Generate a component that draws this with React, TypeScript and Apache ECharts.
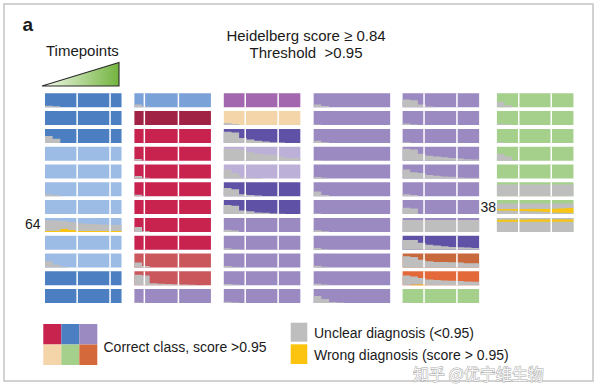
import React, { useEffect, useRef } from 'react';
import * as echarts from 'echarts';

// ---------- data ----------
const N_STEPS = 10; // timepoint samples across each tile

const col1Classes = ['blueDark', 'blueDark', 'blueDark', 'blueLight', 'blueLight', 'blueLight', 'blueLight', 'blueLight', 'blueLight', 'blueLight', 'blueDark', 'blueDark'];
const col2Classes = ['blueMid', 'redDark', 'crimson', 'crimson', 'crimson', 'crimson', 'crimson', 'crimson', 'crimson', 'coral', 'coral', 'purple'];
const col3Classes = ['magenta', 'beige', 'indigo', 'lilac', 'lilac', 'indigo', 'indigo', 'purple', 'purple', 'purple', 'purple', 'purple'];
const col4Classes = ['purple', 'purple', 'purple', 'purple', 'purple', 'purple', 'purple', 'purple', 'purple', 'purple', 'purple', 'purple'];
const col5Classes = ['purple', 'purple', 'purple', 'purple', 'purple', 'purple', 'purple', 'purple', 'indigo', 'brown', 'orange', 'green'];
const col6Classes = ['green', 'green', 'green', 'green', 'green', 'green', 'green', 'green'];

// fraction of samples with unclear diagnosis (grey, from bottom) per timepoint
const col1Unclear = [
  [0.12, 0.08], [], [0.5, 0.3], [], [], [0.15, 0.1], [], [], [], [0.45, 0.2, 0.05], [], [],
];
const col2Unclear = [
  [0.2, 0.05], [], [], [0.12], [0.18, 0.05], [0.12], [], [0.35, 0.05], [], [0.35, 0.1],
  [0.75, 0.7, 0.15, 0.12, 0.1, 0.08, 0.06, 0.04, 0.02], [0.05],
];
const col3Unclear = [
  [], [0.15, 0.08], [0.8, 0.75, 0.35, 0.25, 0.15, 0.1, 0.05, 0.03],
  [0.85, 0.85, 0.8, 0.6, 0.5, 0.45, 0.4, 0.3, 0.22, 0.2], [0.65, 0.4, 0.1, 0.05, 0.03],
  [0.6, 0.5, 0.15, 0.1, 0.05], [0.65, 0.6, 0.25, 0.2, 0.12, 0.1, 0.05, 0.03],
  [0.15, 0.1], [0.1, 0.05], [0.1, 0.05], [0.1, 0.05], [0.1, 0.05],
];
const col4Unclear = [
  [0.2, 0.1], [0.05], [0.15, 0.05], [0.05], [0.1, 0.05], [0.35, 0.1], [0.05],
  [0.12, 0.05], [0.12, 0.05], [0.12, 0.05], [0.12, 0.05], [0.5, 0.3, 0.08, 0.05],
];
const col5Unclear = [
  [0.55, 0.5, 0.2, 0.05], [0.12, 0.05], [0.05],
  [0.85, 0.8, 0.5, 0.35, 0.3, 0.25, 0.2, 0.15, 0.1, 0.08],
  [0.65, 0.45, 0.4, 0.25, 0.2, 0.15, 0.12, 0.08, 0.05, 0.05],
  [0.15, 0.1], [0.45, 0.4],
  [0.85, 0.85, 0.85, 0.85, 0.85, 0.85, 0.85, 0.85, 0.85, 0.85],
  [0.7, 0.7, 0.5, 0.35, 0.3, 0.25, 0.2, 0.18, 0.15, 0.12],
  [0.8, 0.75, 0.55, 0.45, 0.4, 0.4, 0.38, 0.35, 0.3, 0.3],
  [], [0.05],
];
const col6Unclear = [
  [0.4, 0.15], [0.1, 0.05], [0.05], [0.5, 0.3, 0.05], [],
  [0.85, 0.85, 0.85, 0.85, 0.85, 0.85, 0.85, 0.85, 0.85, 0.85], [], [],
];

// tiles containing wrong diagnoses: grey below, yellow, grey above
const wrongTile64 = { col: 0, row: 7,
  below: [],
  wrong: [0.06, 0.1, 0.25, 0.15, 0.06, 0.06, 0.06, 0.06, 0.06, 0.06],
  above: [0.78, 0.72, 0.52, 0.56, 0.56, 0.52, 0.5, 0.47, 0.45, 0.44] };
const wrongTileOrange = { col: 4, row: 10,
  below: [],
  wrong: [0, 0.06, 0.08],
  above: [0.7, 0.56, 0.44, 0.42, 0.38, 0.35, 0.33, 0.3, 0.28, 0.25] };
const wrongTile38 = { col: 5, row: 6,
  below: [0.25, 0.25, 0.24, 0.22, 0.2, 0.18, 0.15, 0.12, 0.1, 0.08],
  wrong: [0.12, 0.12, 0.13, 0.15, 0.18, 0.2, 0.24, 0.28, 0.32, 0.35],
  above: [0.39, 0.39, 0.39, 0.39, 0.38, 0.38, 0.37, 0.36, 0.34, 0.33] };
const wrongTileLast = { col: 5, row: 7,
  below: [0.72, 0.72, 0.72, 0.72, 0.72, 0.72, 0.72, 0.72, 0.72, 0.72],
  wrong: [0.16, 0.16, 0.17, 0.17, 0.18, 0.18, 0.18, 0.18, 0.18, 0.18],
  above: [0.12, 0.12, 0.11, 0.11, 0.1, 0.1, 0.1, 0.1, 0.1, 0.1] };
const wrongTiles = [wrongTile64, wrongTileOrange, wrongTile38, wrongTileLast];

const rowLabels = [
  { col: 0, row: 7, text: '64' },
  { col: 5, row: 6, text: '38' },
];

// ---------- styles / layout ----------
const PALETTE: Record<string, string> = {
  blueDark: '#4b7fc1', blueLight: '#9dbce5', blueMid: '#7aa1d8',
  redDark: '#a02244', crimson: '#c8224f', coral: '#c9575b',
  magenta: '#a267af', beige: '#f3d5a9', indigo: '#5f52a6', lilac: '#bdb0d8',
  purple: '#9b89c1', brown: '#c8693d', orange: '#e3693a', green: '#a4d08c',
  grey: '#bebebe', yellow: '#f9c416',
};
const COL_SHIFT = [0, 0, 0, 0.005, 0, 0.055];
const TILE_W = 0.856;
const TILE_H = 0.787;
const DIVIDERS = [[0.42, 0.85], [0.13, 0.575], [0.28, 0.71], [], [0.28, 0.71], [0.285, 0.71]];
const FONT = '"Liberation Sans", Arial, sans-serif';

const columnClasses = [col1Classes, col2Classes, col3Classes, col4Classes, col5Classes, col6Classes];
const columnUnclear = [col1Unclear, col2Unclear, col3Unclear, col4Unclear, col5Unclear, col6Unclear];

const pad = (a: number[]) => {
  const out = new Array(N_STEPS).fill(0);
  (a || []).forEach((v, i) => { if (i < N_STEPS) out[i] = v; });
  return out;
};

const tileData: number[][] = [];
columnClasses.forEach((cls, c) => cls.forEach((_, r) => tileData.push([c, r])));

const renderItem = (params: any, api: any) => {
  const c = api.value(0);
  const r = api.value(1);
  const x0 = c + COL_SHIFT[c];
  const tl = api.coord([x0, r]);
  const br = api.coord([x0 + TILE_W, r + TILE_H]);
  const w = br[0] - tl[0];
  const h = br[1] - tl[1];
  const children: any[] = [
    { type: 'rect', shape: { x: tl[0], y: tl[1], width: w, height: h }, style: { fill: PALETTE[columnClasses[c][r]] } },
  ];
  const special = wrongTiles.find((t) => t.col === c && t.row === r);
  const layers: [number[], string][] = special
    ? [[pad(special.below), 'grey'], [pad(special.wrong), 'yellow'], [pad(special.above), 'grey']]
    : [[pad(columnUnclear[c][r]), 'grey']];
  const base = new Array(N_STEPS).fill(0);
  const sx = w / N_STEPS;
  layers.forEach(([arr, key]) => {
    if (arr.some((v) => v > 0)) {
      const pts: number[][] = [];
      for (let k = 0; k < N_STEPS; k++) {
        const top = Math.min(1, base[k] + arr[k]);
        pts.push([tl[0] + k * sx, br[1] - top * h], [tl[0] + (k + 1) * sx, br[1] - top * h]);
      }
      for (let k = N_STEPS - 1; k >= 0; k--) {
        pts.push([tl[0] + (k + 1) * sx, br[1] - base[k] * h], [tl[0] + k * sx, br[1] - base[k] * h]);
      }
      children.push({ type: 'polygon', shape: { points: pts }, style: { fill: PALETTE[key] } });
    }
    for (let k = 0; k < N_STEPS; k++) base[k] += arr[k];
  });
  DIVIDERS[c].forEach((f) => {
    const x = tl[0] + f * w;
    children.push({ type: 'line', shape: { x1: x, y1: tl[1], x2: x, y2: br[1] }, style: { stroke: '#ffffff', lineWidth: 1.5 } });
  });
  return { type: 'group', children };
};

const labelSeries = {
  type: 'custom',
  coordinateSystem: 'cartesian2d',
  data: rowLabels.map((l) => [l.col, l.row]),
  renderItem: (params: any, api: any) => {
    const c = api.value(0);
    const r = api.value(1);
    const lab = rowLabels[params.dataIndex];
    const left = c === 0;
    const p = api.coord([c + COL_SHIFT[c] + (left ? 0 : 0), r + TILE_H / 2]);
    return {
      type: 'text',
      style: {
        text: lab.text, x: left ? p[0] - 4.5 : p[0] - 16.5, y: p[1] - 0.5,
        textAlign: left ? 'right' : 'left', textVerticalAlign: 'middle',
        font: `14px ${FONT}`, fill: '#1a1a1a',
      },
    };
  },
};

export default function App() {
  const ref = useRef<HTMLDivElement>(null);
  useEffect(() => {
    if (!ref.current) return;
    const chart = echarts.init(ref.current, undefined, { renderer: 'svg' });
    const txt = (text: string, x: number, y: number, size: number, align = 'left', extra: any = {}) => ({
      type: 'text', x, y,
      style: { text, font: `${extra.bold ? 'bold ' : ''}${size}px ${extra.family || FONT}`, fill: extra.fill || '#1a1a1a',
        textAlign: align, textVerticalAlign: 'middle', stroke: extra.stroke, lineWidth: extra.lineWidth },
    });
    const sq = (x: number, y: number, w: number, h: number, fill: string) => ({
      type: 'rect', shape: { x, y, width: w, height: h }, style: { fill },
    });
    chart.setOption({
      animation: false,
      backgroundColor: '#ffffff',
      grid: { left: 45, right: 18.6, top: 93.3, bottom: 84.1 },
      xAxis: { type: 'value', min: 0, max: 6, show: false },
      yAxis: { type: 'value', min: 0, max: 12, inverse: true, show: false },
      series: [
        { type: 'custom', coordinateSystem: 'cartesian2d', data: tileData, renderItem, silent: true },
        labelSeries,
      ],
      graphic: [
        { type: 'rect', shape: { x: 4, y: 4, width: 589, height: 377 }, style: { fill: 'none', stroke: '#c4c4c4', lineWidth: 1.5 } },
        txt('a', 22.5, 24.5, 19, 'left', { bold: true }),
        txt('Timepoints', 46, 50.5, 15),
        {
          type: 'polygon',
          shape: { points: [[42, 86], [119, 86], [119, 62.5]] },
          style: {
            fill: new echarts.graphic.LinearGradient(0, 0, 1, 0, [
              { offset: 0, color: '#f4faee' }, { offset: 1, color: '#73b43f' },
            ]),
            stroke: '#2a2a2a', lineWidth: 1.1,
          },
        },
        txt('Heidelberg score \u2265 0.84', 306, 35.5, 15, 'center'),
        txt('Threshold  >0.95', 306, 52.5, 15, 'center'),
        sq(43.3, 324, 18, 20.5, '#c8224f'),
        sq(61.3, 324, 18, 20.5, '#4b7fc1'),
        sq(79.3, 324, 18, 20.5, '#9b89c1'),
        sq(43.3, 344.5, 18, 20.5, '#f3d5a9'),
        sq(61.3, 344.5, 18, 20.5, '#a4d08c'),
        sq(79.3, 344.5, 18, 20.5, '#d4693b'),
        txt('Correct class, score >0.95', 103.5, 346.5, 14),
        sq(290.7, 322.7, 16.6, 19, '#bebebe'),
        sq(290.7, 344.3, 16.6, 19.7, '#fdc40f'),
        txt('Unclear diagnosis (<0.95)', 314, 333, 14),
        txt('Wrong diagnosis (score > 0.95)', 314, 355, 14),
        txt('\u77e5\u4e4e @\u4f18\u5b81\u7ef4\u751f\u7269', 413, 372.5, 16, 'left',
          { family: '"Noto Sans CJK SC", sans-serif', fill: '#f6f6f6', stroke: '#a6a6a6', lineWidth: 0.9 }),
      ],
    });
    return () => chart.dispose();
  }, []);
  return <div ref={ref} style={{ position: 'fixed', left: 0, top: 0, width: 600, height: 391, background: '#fff' }} />;
}
